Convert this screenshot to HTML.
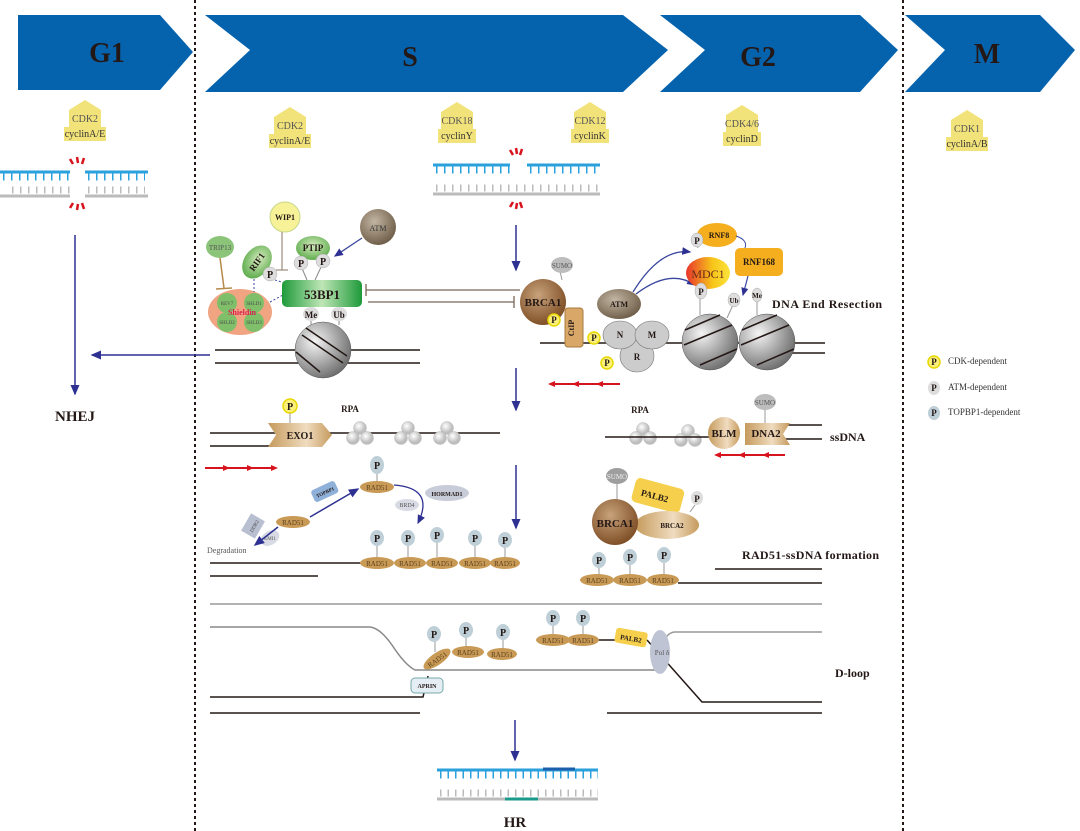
<!DOCTYPE html>
<html><head><meta charset="utf-8"><style>
html,body{margin:0;padding:0;background:#fff;}
svg{display:block;font-family:"Liberation Serif",serif;}
.b{font-weight:bold;fill:#231815;}
</style></head><body>
<svg width="1080" height="831" viewBox="0 0 1080 831" xmlns="http://www.w3.org/2000/svg">
<defs>
<marker id="ar" markerWidth="8" markerHeight="8" refX="6" refY="3" orient="auto"><path d="M0,0 L7,3 L0,6 z" fill="#2e3192"/></marker>
<radialGradient id="nuc" cx="35%" cy="35%" r="70%"><stop offset="0" stop-color="#f5f5f5"/><stop offset="1" stop-color="#6d6d6d"/></radialGradient>
<radialGradient id="brn" cx="40%" cy="35%" r="70%"><stop offset="0" stop-color="#c7a27a"/><stop offset="1" stop-color="#7b4a22"/></radialGradient>
<radialGradient id="atm" cx="40%" cy="35%" r="70%"><stop offset="0" stop-color="#c2b5a2"/><stop offset="1" stop-color="#6b5a45"/></radialGradient>
<radialGradient id="grn" cx="50%" cy="40%" r="70%"><stop offset="0" stop-color="#d7ecc0"/><stop offset="1" stop-color="#4aa23a"/></radialGradient>
<linearGradient id="bp" x1="0" x2="1"><stop offset="0" stop-color="#1e9a3a"/><stop offset=".5" stop-color="#bfe6b6"/><stop offset="1" stop-color="#1e9a3a"/></linearGradient>
<linearGradient id="mdc" x1="0" x2="1"><stop offset="0" stop-color="#e8352a"/><stop offset=".6" stop-color="#f7c51a"/><stop offset="1" stop-color="#fbe33a"/></linearGradient>
<linearGradient id="gold" x1="0" x2="1"><stop offset="0" stop-color="#c59a5c"/><stop offset=".6" stop-color="#f0dcc0"/><stop offset="1" stop-color="#c59a5c"/></linearGradient>
<radialGradient id="rpa" cx="40%" cy="35%"><stop offset="0" stop-color="#fff"/><stop offset="1" stop-color="#bdbdbd"/></radialGradient>
</defs>

<g fill="#0563ae">
<polygon points="18,15 160,15 193,52 160,90 18,90"/>
<polygon points="205,15 623,15 668,50 623,92 205,92 250,50"/>
<polygon points="660,15 860,15 898,50 860,92 660,92 705,50"/>
<polygon points="905,15 1040,15 1075,50 1040,92 905,92 945,50"/>
</g>
<g class="b" font-size="28" text-anchor="middle">
<text x="107" y="62">G1</text><text x="410" y="66">S</text><text x="758" y="66">G2</text><text x="987" y="63">M</text>
</g>

<line x1="195" y1="0" x2="195" y2="831" stroke="#231815" stroke-width="2" stroke-dasharray="3,3"/>
<line x1="903" y1="0" x2="903" y2="831" stroke="#231815" stroke-width="2" stroke-dasharray="3,3"/>

<g font-size="10" text-anchor="middle" fill="#555">
<g transform="translate(85,100)"><polygon points="0,0 16,10 16,30 -16,30 -16,10" fill="#f2e27a"/><rect x="-21" y="27" width="42" height="14" fill="#f2e27a"/><text y="22">CDK2</text><text y="37" fill="#333">cyclinA/E</text></g>
<g transform="translate(290,107)"><polygon points="0,0 16,10 16,30 -16,30 -16,10" fill="#f2e27a"/><rect x="-21" y="27" width="42" height="14" fill="#f2e27a"/><text y="22">CDK2</text><text y="37" fill="#333">cyclinA/E</text></g>
<g transform="translate(457,102)"><polygon points="0,0 16,10 16,30 -16,30 -16,10" fill="#f2e27a"/><rect x="-19" y="27" width="38" height="14" fill="#f2e27a"/><text y="22">CDK18</text><text y="37" fill="#333">cyclinY</text></g>
<g transform="translate(590,102)"><polygon points="0,0 16,10 16,30 -16,30 -16,10" fill="#f2e27a"/><rect x="-19" y="27" width="38" height="14" fill="#f2e27a"/><text y="22">CDK12</text><text y="37" fill="#333">cyclinK</text></g>
<g transform="translate(742,105)"><polygon points="0,0 16,10 16,30 -16,30 -16,10" fill="#f2e27a"/><rect x="-19" y="27" width="38" height="14" fill="#f2e27a"/><text y="22">CDK4/6</text><text y="37" fill="#333">cyclinD</text></g>
<g transform="translate(967,110)"><polygon points="0,0 16,10 16,30 -16,30 -16,10" fill="#f2e27a"/><rect x="-21" y="27" width="42" height="14" fill="#f2e27a"/><text y="22">CDK1</text><text y="37" fill="#333">cyclinA/B</text></g>
</g>

<!-- G1 broken DNA -->
<g>
<line x1="0" y1="172" x2="70" y2="172" stroke="#2aa0dc" stroke-width="3"/>
<line x1="85" y1="172" x2="148" y2="172" stroke="#2aa0dc" stroke-width="3"/>
<line x1="3" y1="177" x2="70" y2="177" stroke="#2aa0dc" stroke-width="7" stroke-dasharray="1.5,6.5"/>
<line x1="88" y1="177" x2="145" y2="177" stroke="#2aa0dc" stroke-width="7" stroke-dasharray="1.5,6.5"/>
<line x1="0" y1="196" x2="70" y2="196" stroke="#bbb" stroke-width="3"/>
<line x1="85" y1="196" x2="148" y2="196" stroke="#bbb" stroke-width="3"/>
<line x1="12" y1="190" x2="70" y2="190" stroke="#bbb" stroke-width="7" stroke-dasharray="1.5,6.5"/>
<line x1="88" y1="190" x2="145" y2="190" stroke="#bbb" stroke-width="7" stroke-dasharray="1.5,6.5"/>
<g stroke="#d7141d" stroke-width="2.5"><line x1="70" y1="159" x2="73" y2="164"/><line x1="77" y1="157" x2="78" y2="163"/><line x1="84" y1="158" x2="82" y2="164"/>
<line x1="70" y1="208" x2="73" y2="203"/><line x1="77" y1="210" x2="78" y2="204"/><line x1="84" y1="209" x2="82" y2="203"/></g>
</g>
<line x1="75" y1="235" x2="75" y2="394" stroke="#2e3192" stroke-width="1.5" marker-end="url(#ar)"/>
<text x="75" y="421" class="b" font-size="15" text-anchor="middle">NHEJ</text>
<line x1="210" y1="355" x2="92" y2="355" stroke="#2e3192" stroke-width="1.5" marker-end="url(#ar)"/>

<g>
<line x1="433" y1="165" x2="510" y2="165" stroke="#2aa0dc" stroke-width="3"/>
<line x1="527" y1="165" x2="600" y2="165" stroke="#2aa0dc" stroke-width="3"/>
<line x1="436" y1="170" x2="510" y2="170" stroke="#2aa0dc" stroke-width="7" stroke-dasharray="1.5,6.5"/>
<line x1="530" y1="170" x2="600" y2="170" stroke="#2aa0dc" stroke-width="7" stroke-dasharray="1.5,6.5"/>
<line x1="433" y1="194" x2="600" y2="194" stroke="#bbb" stroke-width="3"/>
<line x1="436" y1="188" x2="600" y2="188" stroke="#bbb" stroke-width="7" stroke-dasharray="1.5,6.5"/>
<g stroke="#d7141d" stroke-width="2.5"><line x1="510" y1="150" x2="513" y2="155"/><line x1="516" y1="148" x2="517" y2="154"/><line x1="522" y1="149" x2="520" y2="155"/>
<line x1="510" y1="207" x2="513" y2="202"/><line x1="516" y1="209" x2="517" y2="203"/><line x1="522" y1="208" x2="520" y2="202"/></g>
</g>
<g stroke="#2e3192" stroke-width="1.5">
<line x1="516" y1="225" x2="516" y2="270" marker-end="url(#ar)"/>
<line x1="516" y1="368" x2="516" y2="410" marker-end="url(#ar)"/>
<line x1="516" y1="465" x2="516" y2="528" marker-end="url(#ar)"/>
<line x1="515" y1="720" x2="515" y2="760" marker-end="url(#ar)"/>
</g>

<g stroke="#231815" stroke-width="1.5"><line x1="215" y1="350" x2="420" y2="350"/><line x1="215" y1="363" x2="420" y2="363"/></g>
<circle cx="323" cy="350" r="28" fill="url(#nuc)" stroke="#555" stroke-width=".5"/>
<g stroke="#231815" stroke-width="1.5"><line x1="306" y1="328" x2="347" y2="356"/><line x1="302" y1="335" x2="343" y2="363"/><line x1="296" y1="352" x2="320" y2="372"/></g>
<g stroke="#888" stroke-width="1"><line x1="311" y1="320" x2="311" y2="325"/><line x1="339" y1="320" x2="339" y2="325"/><line x1="307" y1="280" x2="301" y2="266"/><line x1="315" y1="280" x2="322" y2="265"/></g>
<ellipse cx="311" cy="314" rx="8" ry="7" fill="#ddd"/><text x="311" y="318" font-size="9" text-anchor="middle" class="b">Me</text>
<ellipse cx="339" cy="314" rx="8" ry="7" fill="#ddd"/><text x="339" y="318" font-size="9" text-anchor="middle" class="b">Ub</text>
<ellipse cx="240" cy="312" rx="32" ry="23" fill="#f1a482"/>
<g fill="#7fbf6a"><circle cx="227" cy="303" r="10"/><circle cx="254" cy="303" r="10"/><circle cx="227" cy="322" r="10"/><circle cx="254" cy="322" r="10"/></g>
<g font-size="5" fill="#4a4a4a" text-anchor="middle"><text x="227" y="305">REV7</text><text x="254" y="305">SHLD1</text><text x="227" y="324">SHLD2</text><text x="254" y="324">SHLD3</text></g>
<text x="242" y="315" font-size="8" fill="#d9204f" font-weight="bold" text-anchor="middle">Shieldin</text>
<ellipse cx="220" cy="247" rx="14" ry="11" fill="#8cc47a"/><text x="220" y="250" font-size="7" fill="#555" text-anchor="middle">TRIP13</text>
<line x1="220" y1="258" x2="224" y2="288" stroke="#b58a4a" stroke-width="1.5"/><line x1="216" y1="289" x2="232" y2="288" stroke="#b58a4a" stroke-width="1.5"/>
<circle cx="285" cy="217" r="15" fill="#f7f198" stroke="#c8d88a"/><text x="285" y="220" font-size="8" class="b" text-anchor="middle">WIP1</text>
<line x1="282" y1="232" x2="282" y2="270" stroke="#9b8a7a" stroke-width="1.2"/><line x1="276" y1="270" x2="288" y2="270" stroke="#9b8a7a" stroke-width="1.2"/>
<ellipse cx="257" cy="262" rx="13" ry="18" transform="rotate(35 257 262)" fill="url(#grn)"/><text x="257" y="265" font-size="9" class="b" text-anchor="middle" transform="rotate(-55 257 262)">RIF1</text>
<ellipse cx="313" cy="248" rx="17" ry="12" fill="url(#grn)"/><text x="313" y="251" font-size="9" class="b" text-anchor="middle">PTIP</text>
<g fill="#ddd" stroke="#aaa" stroke-width=".5"><circle cx="270" cy="274" r="7"/><circle cx="301" cy="263" r="7"/><circle cx="323" cy="261" r="7"/></g>
<g font-size="10" class="b" text-anchor="middle"><text x="270" y="278">P</text><text x="301" y="267">P</text><text x="323" y="265">P</text></g>
<g stroke="#3a47a0" stroke-width="1" stroke-dasharray="2,2" fill="none"><line x1="254" y1="279" x2="254" y2="292"/><line x1="275" y1="280" x2="285" y2="283"/><line x1="270" y1="302" x2="283" y2="295"/></g>
<circle cx="378" cy="227" r="18" fill="url(#atm)"/><text x="378" y="231" font-size="8" fill="#333" text-anchor="middle">ATM</text>
<line x1="362" y1="238" x2="335" y2="256" stroke="#3a47a0" stroke-width="1.3" marker-end="url(#ar)"/>
<rect x="282" y="280" width="80" height="27" rx="5" fill="url(#bp)"/><text x="322" y="299" font-size="13" class="b" text-anchor="middle">53BP1</text>
<g stroke="#7a6656" stroke-width="1.3"><line x1="366" y1="290" x2="520" y2="290"/><line x1="366" y1="284" x2="366" y2="296"/><line x1="368" y1="302" x2="514" y2="302"/><line x1="514" y1="296" x2="514" y2="308"/></g>

<g stroke="#231815" stroke-width="1.5"><line x1="540" y1="343" x2="825" y2="343"/><line x1="780" y1="353" x2="825" y2="353"/></g>
<line x1="562" y1="280" x2="560" y2="271" stroke="#999"/>
<ellipse cx="562" cy="265" rx="11" ry="8" fill="#bdbdbd"/><text x="562" y="268" font-size="7" fill="#555" text-anchor="middle">SUMO</text>
<circle cx="543" cy="302" r="23" fill="url(#brn)"/><text x="543" y="306" font-size="11" class="b" text-anchor="middle">BRCA1</text>
<rect x="565" y="308" width="18" height="39" rx="3" fill="#d9a869" stroke="#a9783c"/><text x="574" y="328" font-size="8" class="b" text-anchor="middle" transform="rotate(-90 574 328)">CtIP</text>
<g fill="#fbf07a" stroke="#e8d800" stroke-width="1.5"><circle cx="554" cy="320" r="6"/><circle cx="594" cy="338" r="6"/><circle cx="607" cy="363" r="6"/></g>
<g font-size="9" class="b" text-anchor="middle"><text x="554" y="323">P</text><text x="594" y="341">P</text><text x="607" y="366">P</text></g>
<ellipse cx="637" cy="356" rx="17" ry="16" fill="#ccc" stroke="#777" stroke-width=".6"/>
<ellipse cx="620" cy="335" rx="17" ry="14" fill="#ccc" stroke="#777" stroke-width=".6"/>
<ellipse cx="652" cy="335" rx="17" ry="14" fill="#ccc" stroke="#777" stroke-width=".6"/>
<g font-size="9" class="b" text-anchor="middle"><text x="620" y="338">N</text><text x="652" y="338">M</text><text x="637" y="360">R</text></g>
<ellipse cx="619" cy="304" rx="22" ry="15" fill="url(#atm)"/><text x="619" y="307" font-size="8" class="b" text-anchor="middle">ATM</text>
<path d="M633,292 Q660,248 690,252" stroke="#3a47a0" stroke-width="1.3" fill="none" marker-end="url(#ar)"/>
<path d="M636,294 Q670,268 695,285" stroke="#3a47a0" stroke-width="1.3" fill="none" marker-end="url(#ar)"/>
<circle cx="710" cy="342" r="28" fill="url(#nuc)" stroke="#555" stroke-width=".5"/>
<circle cx="767" cy="342" r="28" fill="url(#nuc)" stroke="#555" stroke-width=".5"/>
<g stroke="#231815" stroke-width="1.5"><line x1="685" y1="330" x2="720" y2="315"/><line x1="684" y1="345" x2="732" y2="325"/><line x1="700" y1="365" x2="737" y2="349"/>
<line x1="742" y1="330" x2="777" y2="315"/><line x1="741" y1="345" x2="789" y2="325"/><line x1="757" y1="365" x2="794" y2="349"/></g>
<g stroke="#999"><line x1="700" y1="315" x2="700" y2="298"/><line x1="727" y1="318" x2="733" y2="305"/><line x1="757" y1="315" x2="757" y2="300"/><line x1="698" y1="248" x2="696" y2="242"/></g>
<ellipse cx="708" cy="273" rx="22" ry="16" fill="url(#mdc)"/><text x="708" y="278" font-size="12" fill="#6a2a1a" text-anchor="middle">MDC1</text>
<ellipse cx="717" cy="235" rx="20" ry="12" fill="#f4ae1e"/><text x="719" y="238" font-size="8" class="b" text-anchor="middle">RNF8</text>
<rect x="735" y="248" width="48" height="28" rx="5" fill="#f4ae1e"/><text x="759" y="265" font-size="9" class="b" text-anchor="middle">RNF168</text>
<path d="M736,236 Q748,240 745,248" stroke="#3a47a0" fill="none"/>
<line x1="748" y1="276" x2="743" y2="295" stroke="#3a47a0" stroke-width="1.2" marker-end="url(#ar)"/>
<g fill="#ddd" stroke="#aaa" stroke-width=".5"><ellipse cx="697" cy="240" rx="6" ry="7"/><ellipse cx="701" cy="291" rx="6" ry="8"/><ellipse cx="734" cy="300" rx="6" ry="7"/><ellipse cx="757" cy="295" rx="5" ry="7"/></g>
<g font-size="9" class="b" text-anchor="middle"><text x="697" y="244">P</text><text x="701" y="295">P</text><text x="734" y="303" font-size="7">Ub</text><text x="757" y="298" font-size="7">Me</text></g>
<text x="772" y="308" class="b" font-size="12" letter-spacing=".5">DNA  End  Resection</text>
<line x1="620" y1="384" x2="550" y2="384" stroke="#d7141d" stroke-width="2"/>
<g fill="#d7141d"><polygon points="548,384 555,381 555,387"/><polygon points="572,384 579,381 579,387"/><polygon points="596,384 603,381 603,387"/></g>

<g stroke="#231815" stroke-width="1.5"><line x1="210" y1="433" x2="500" y2="433"/><line x1="210" y1="446" x2="270" y2="446"/></g>
<polygon points="268,423 322,423 332,435 322,447 268,447 276,435" fill="url(#gold)"/>
<text x="300" y="439" font-size="10" class="b" text-anchor="middle">EXO1</text>
<circle cx="290" cy="406" r="7" fill="#fbf07a" stroke="#e8d800" stroke-width="1.5"/><text x="290" y="410" font-size="10" class="b" text-anchor="middle">P</text>
<line x1="290" y1="413" x2="290" y2="423" stroke="#999"/>
<text x="350" y="412" font-size="9" class="b" text-anchor="middle">RPA</text>
<g fill="url(#rpa)" stroke="#bbb" stroke-width=".5">
<circle cx="360" cy="428" r="6.5"/><circle cx="353" cy="438" r="6.5"/><circle cx="367" cy="438" r="6.5"/>
<circle cx="408" cy="428" r="6.5"/><circle cx="401" cy="438" r="6.5"/><circle cx="415" cy="438" r="6.5"/>
<circle cx="447" cy="428" r="6.5"/><circle cx="440" cy="438" r="6.5"/><circle cx="454" cy="438" r="6.5"/>
<circle cx="643" cy="429" r="6.5"/><circle cx="636" cy="438" r="6.5"/><circle cx="650" cy="438" r="6.5"/>
<circle cx="688" cy="431" r="6.5"/><circle cx="681" cy="440" r="6.5"/><circle cx="695" cy="440" r="6.5"/>
</g>
<line x1="205" y1="468" x2="272" y2="468" stroke="#d7141d" stroke-width="2"/>
<g fill="#d7141d"><polygon points="278,468 271,465 271,471"/><polygon points="254,468 247,465 247,471"/><polygon points="230,468 223,465 223,471"/></g>

<g stroke="#231815" stroke-width="1.5"><line x1="605" y1="437" x2="712" y2="437"/><line x1="780" y1="425" x2="822" y2="425"/><line x1="780" y1="439" x2="822" y2="439"/></g>
<text x="640" y="413" font-size="9" class="b" text-anchor="middle">RPA</text>
<line x1="765" y1="410" x2="765" y2="423" stroke="#999"/>
<ellipse cx="765" cy="402" rx="11" ry="8" fill="#bdbdbd"/><text x="765" y="405" font-size="7" fill="#555" text-anchor="middle">SUMO</text>
<polygon points="745,423 790,423 783,434 790,445 745,445" fill="url(#gold)"/>
<circle cx="724" cy="433" r="16" fill="url(#gold)"/>
<text x="724" y="437" font-size="11" class="b" text-anchor="middle">BLM</text><text x="766" y="437" font-size="11" class="b" text-anchor="middle">DNA2</text>
<text x="830" y="441" class="b" font-size="12">ssDNA</text>
<line x1="785" y1="455" x2="718" y2="455" stroke="#d7141d" stroke-width="2"/>
<g fill="#d7141d"><polygon points="714,455 721,452 721,458"/><polygon points="738,455 745,452 745,458"/><polygon points="762,455 769,452 769,458"/></g>

<g stroke="#999"><line x1="377" y1="472" x2="377" y2="482"/></g>
<ellipse cx="377" cy="465" rx="7" ry="9" fill="#bfcfd8"/><text x="377" y="469" font-size="10" class="b" text-anchor="middle">P</text>
<ellipse cx="377" cy="487" rx="17" ry="6" fill="#c99a55"/><text x="377" y="490" font-size="7" fill="#5a4020" text-anchor="middle">RAD51</text>
<ellipse cx="447" cy="493" rx="22" ry="8" fill="#c8ccd8"/><text x="447" y="496" font-size="6" class="b" text-anchor="middle">HORMAD1</text>
<ellipse cx="407" cy="505" rx="12" ry="6" fill="#d8dbe4"/><text x="407" y="507" font-size="6" fill="#555" text-anchor="middle">BRD4</text>
<path d="M394,485 Q435,488 418,523" stroke="#2e3192" stroke-width="1.3" fill="none" marker-end="url(#ar)"/>
<rect x="312" y="485" width="26" height="13" rx="3" fill="#8fb0d8" transform="rotate(-25 325 492)"/><text x="325" y="494" font-size="5" class="b" text-anchor="middle" transform="rotate(-25 325 492)">TOPBP1</text>
<line x1="310" y1="517" x2="358" y2="489" stroke="#2e3192" stroke-width="1.5" marker-end="url(#ar)"/>
<ellipse cx="293" cy="522" rx="17" ry="6" fill="#c99a55"/><text x="293" y="525" font-size="7" fill="#5a4020" text-anchor="middle">RAD51</text>
<rect x="245" y="516" width="16" height="20" fill="#b8bfd0" transform="rotate(30 253 526)"/><text x="254" y="528" font-size="5" fill="#444" text-anchor="middle" transform="rotate(-60 254 526)">DDR2</text>
<ellipse cx="270" cy="538" rx="7" ry="10" fill="#d8dbe4" transform="rotate(60 270 538)"/><text x="270" y="540" font-size="5" fill="#555" text-anchor="middle">EMI1</text>
<line x1="278" y1="527" x2="255" y2="545" stroke="#2e3192" stroke-width="1.5" marker-end="url(#ar)"/>
<text x="207" y="553" font-size="8" fill="#555">Degradation</text>
<g stroke="#231815" stroke-width="1.5"><line x1="210" y1="563" x2="362" y2="563"/><line x1="210" y1="576" x2="318" y2="576"/></g>
<g stroke="#999"><line x1="377" y1="545" x2="377" y2="557"/><line x1="408" y1="545" x2="408" y2="557"/><line x1="437" y1="542" x2="437" y2="557"/><line x1="475" y1="545" x2="475" y2="557"/><line x1="505" y1="545" x2="505" y2="557"/></g>
<g fill="#bfcfd8"><ellipse cx="377" cy="538" rx="7" ry="8"/><ellipse cx="408" cy="538" rx="7" ry="8"/><ellipse cx="437" cy="535" rx="7" ry="8"/><ellipse cx="475" cy="538" rx="7" ry="8"/><ellipse cx="505" cy="540" rx="7" ry="8"/></g>
<g font-size="10" class="b" text-anchor="middle"><text x="377" y="542">P</text><text x="408" y="542">P</text><text x="437" y="539">P</text><text x="475" y="542">P</text><text x="505" y="544">P</text></g>
<g fill="#c99a55"><ellipse cx="377" cy="563" rx="17" ry="6"/><ellipse cx="410" cy="563" rx="16" ry="6"/><ellipse cx="442" cy="563" rx="16" ry="6"/><ellipse cx="475" cy="563" rx="16" ry="6"/><ellipse cx="505" cy="563" rx="15" ry="6"/></g>
<g font-size="7" fill="#5a4020" text-anchor="middle"><text x="377" y="566">RAD51</text><text x="410" y="566">RAD51</text><text x="442" y="566">RAD51</text><text x="475" y="566">RAD51</text><text x="505" y="566">RAD51</text></g>

<line x1="617" y1="484" x2="617" y2="500" stroke="#999"/>
<ellipse cx="617" cy="476" rx="11" ry="8" fill="#9e9e9e"/><text x="617" y="479" font-size="7" fill="#eee" text-anchor="middle">SUMO</text>
<rect x="633" y="483" width="50" height="25" rx="5" fill="#f6d04d" transform="rotate(15 658 495)"/><text x="655" y="499" font-size="9" class="b" text-anchor="middle" transform="rotate(15 655 495)">PALB2</text>
<ellipse cx="667" cy="525" rx="32" ry="14" fill="url(#gold)"/><text x="672" y="528" font-size="7" class="b" text-anchor="middle">BRCA2</text>
<circle cx="615" cy="522" r="23" fill="url(#brn)"/><text x="615" y="527" font-size="11" class="b" text-anchor="middle">BRCA1</text>
<line x1="695" y1="505" x2="690" y2="512" stroke="#999"/>
<ellipse cx="697" cy="498" rx="6" ry="7" fill="#ddd"/><text x="697" y="502" font-size="9" class="b" text-anchor="middle">P</text>
<g stroke="#999"><line x1="599" y1="564" x2="599" y2="575"/><line x1="630" y1="562" x2="630" y2="575"/><line x1="664" y1="560" x2="664" y2="575"/></g>
<g fill="#bfcfd8"><ellipse cx="599" cy="560" rx="7" ry="8"/><ellipse cx="630" cy="557" rx="7" ry="8"/><ellipse cx="664" cy="555" rx="7" ry="8"/></g>
<g font-size="10" class="b" text-anchor="middle"><text x="599" y="564">P</text><text x="630" y="561">P</text><text x="664" y="559">P</text></g>
<g stroke="#231815" stroke-width="1.5"><line x1="715" y1="569" x2="822" y2="569"/><line x1="678" y1="583" x2="822" y2="583"/></g>
<g fill="#c99a55"><ellipse cx="597" cy="580" rx="17" ry="6"/><ellipse cx="630" cy="580" rx="17" ry="6"/><ellipse cx="663" cy="580" rx="16" ry="6"/></g>
<g font-size="7" fill="#5a4020" text-anchor="middle"><text x="597" y="583">RAD51</text><text x="630" y="583">RAD51</text><text x="663" y="583">RAD51</text></g>
<text x="742" y="559" class="b" font-size="12" letter-spacing=".3">RAD51-ssDNA formation</text>

<line x1="210" y1="604" x2="822" y2="604" stroke="#999" stroke-width="1.5"/>
<path d="M210,627 L370,627 Q380,628 392,645 Q405,665 415,670 L660,670" stroke="#888" stroke-width="1.5" fill="none"/>
<path d="M660,652 Q665,632 675,632 L822,632" stroke="#999" stroke-width="1.5" fill="none"/>
<g stroke="#231815" stroke-width="1.5" fill="none"><path d="M210,697 L423,697 L428,676"/><line x1="210" y1="713" x2="420" y2="713"/>
<path d="M647,640 L702,702 L822,702"/><line x1="607" y1="713" x2="822" y2="713"/><line x1="598" y1="640" x2="620" y2="640"/></g>
<ellipse cx="660" cy="652" rx="10" ry="22" fill="#bfc4d4"/><text x="662" y="655" font-size="7" fill="#555" text-anchor="middle">Pol δ</text>
<rect x="615" y="630" width="32" height="15" rx="3" fill="#f6d04d" transform="rotate(10 631 638)"/><text x="631" y="641" font-size="7" class="b" text-anchor="middle" transform="rotate(10 631 638)">PALB2</text>
<rect x="411" y="678" width="32" height="15" rx="4" fill="#e6eef5" stroke="#7aa"/><text x="427" y="688" font-size="6" class="b" text-anchor="middle">APRIN</text>
<g stroke="#999"><line x1="435" y1="640" x2="435" y2="652"/><line x1="466" y1="637" x2="466" y2="647"/><line x1="503" y1="639" x2="503" y2="649"/><line x1="553" y1="625" x2="553" y2="635"/><line x1="583" y1="625" x2="583" y2="635"/></g>
<g fill="#bfcfd8"><ellipse cx="434" cy="634" rx="7" ry="8"/><ellipse cx="466" cy="630" rx="7" ry="8"/><ellipse cx="503" cy="632" rx="7" ry="8"/><ellipse cx="553" cy="618" rx="7" ry="8"/><ellipse cx="583" cy="618" rx="7" ry="8"/></g>
<g font-size="10" class="b" text-anchor="middle"><text x="434" y="638">P</text><text x="466" y="634">P</text><text x="503" y="636">P</text><text x="553" y="622">P</text><text x="583" y="622">P</text></g>
<g fill="#c99a55"><ellipse cx="437" cy="659" rx="16" ry="6" transform="rotate(-35 437 659)"/><ellipse cx="468" cy="652" rx="16" ry="6"/><ellipse cx="502" cy="654" rx="15" ry="6"/><ellipse cx="553" cy="640" rx="17" ry="6"/><ellipse cx="583" cy="640" rx="16" ry="6"/></g>
<g font-size="7" fill="#5a4020" text-anchor="middle"><text x="437" y="662" transform="rotate(-35 437 659)">RAD51</text><text x="468" y="655">RAD51</text><text x="502" y="657">RAD51</text><text x="553" y="643">RAD51</text><text x="583" y="643">RAD51</text></g>
<text x="835" y="677" class="b" font-size="12">D-loop</text>

<line x1="437" y1="770" x2="598" y2="770" stroke="#2aa0dc" stroke-width="3"/>
<line x1="543" y1="769" x2="575" y2="769" stroke="#1b5faa" stroke-width="3"/>
<line x1="440" y1="775" x2="598" y2="775" stroke="#2aa0dc" stroke-width="7" stroke-dasharray="1.5,6"/>
<line x1="437" y1="799" x2="598" y2="799" stroke="#bbb" stroke-width="3"/>
<line x1="505" y1="799" x2="538" y2="799" stroke="#1a9a8a" stroke-width="3"/>
<line x1="440" y1="793" x2="598" y2="793" stroke="#bbb" stroke-width="7" stroke-dasharray="1.5,6"/>
<text x="515" y="827" class="b" font-size="15" text-anchor="middle">HR</text>

<circle cx="934" cy="362" r="6" fill="#fbf07a" stroke="#e8d800" stroke-width="1.5"/>
<ellipse cx="934" cy="388" rx="6" ry="7" fill="#ddd"/>
<ellipse cx="934" cy="413" rx="6" ry="7" fill="#bfcfd8"/>
<g font-size="9" class="b" text-anchor="middle"><text x="934" y="365">P</text><text x="934" y="391">P</text><text x="934" y="416">P</text></g>
<g font-size="9" fill="#333"><text x="948" y="364">CDK-dependent</text><text x="948" y="390">ATM-dependent</text><text x="948" y="415">TOPBP1-dependent</text></g>
</svg>
</body></html>
